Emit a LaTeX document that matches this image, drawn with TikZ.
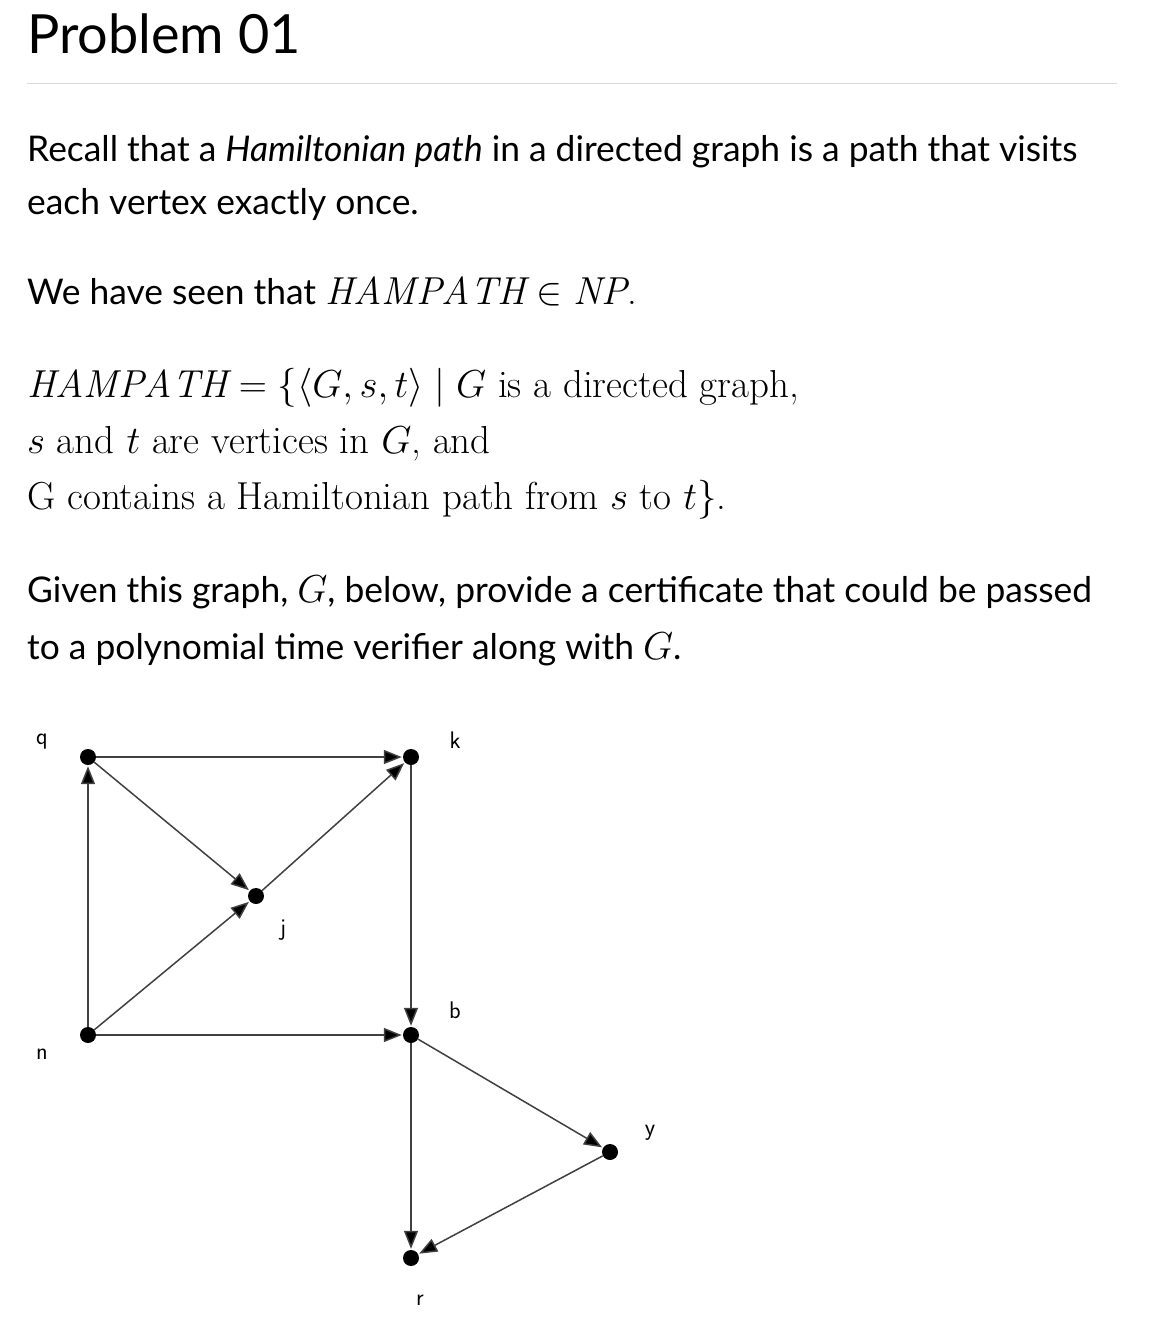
\RequirePackage{fix-cm}
\documentclass[tikz,border=0pt]{standalone}
\usepackage{amsmath}
\usepackage{fontspec}
\newfontfamily\lato{Lato}
\usetikzlibrary{arrows.meta}
\begin{document}
\begin{tikzpicture}[x=1pt,y=-1pt,
  body/.style={anchor=base west,inner sep=0,font=\lato\fontsize{35.4}{42}\selectfont},
  mth/.style={anchor=base west,inner sep=0,font=\fontsize{39}{48}\selectfont},
  vtx/.style={circle,fill=black,minimum size=16,inner sep=0},
  lbl/.style={font=\sffamily\fontsize{24}{28}\selectfont,inner sep=0},
  edge/.style={draw=black!75,line width=1.5,-{Triangle[length=18,width=14,fill=black]},shorten >=1}]
\useasboundingbox (0,0) rectangle (1152,1328);
\node[anchor=base west,inner sep=0,font=\lato\fontsize{54}{60}\selectfont] (title) at (27,53) {Problem 01};
\draw[black!15,line width=1] (27,83) -- (1117,83);
\node[body] (l1) at (27,161) {Recall that a \textit{Hamiltonian path} in a directed graph is a path that visits};
\node[body] (l2) at (27,214) {each vertex exactly once.};
\node[body] (l3) at (27,304) {We have seen that {\fontsize{39}{48}\selectfont\normalfont $\mathit{HAMPATH}\in\mathit{NP}$.}};
\node[mth] (m1) at (27,397) {$\mathit{HAMPATH}=\{\langle G,s,t\rangle\mid G$ is a directed graph,};
\node[mth] (m2) at (27,453) {$s$ and $t$ are vertices in $G$, and};
\node[mth] (m3) at (27,509) {G contains a Hamiltonian path from $s$ to $t\}$.};
\node[body] (l4) at (27,602) {Given this graph, {\fontsize{39}{48}\selectfont\normalfont $G$}, below, provide a certificate that could be passed};
\node[body] (l5) at (27,659) {to a polynomial time verifier along with {\fontsize{39}{48}\selectfont\normalfont $G$}.};

\node[vtx] (q) at (88,757) {};
\node[vtx] (k) at (411,757) {};
\node[vtx] (j) at (256,896) {};
\node[vtx] (n) at (88,1035) {};
\node[vtx] (b) at (411,1035) {};
\node[vtx] (y) at (610,1152) {};
\node[vtx] (r) at (411,1258) {};
\node[lbl] at (42,742) {q};
\node[lbl] at (455,740) {k};
\node[lbl] at (283,930) {j};
\node[lbl] at (42,1054) {n};
\node[lbl] at (455,1010) {b};
\node[lbl] at (650,1133) {y};
\node[lbl] at (420,1300) {r};

\draw[edge] (q) -- (k);
\draw[edge] (q) -- (j);
\draw[edge] (n) -- (j);
\draw[edge] (j) -- (k);
\draw[edge] (n) -- (q);
\draw[edge] (k) -- (b);
\draw[edge] (n) -- (b);
\draw[edge] (b) -- (y);
\draw[edge] (b) -- (r);
\draw[edge] (y) -- (r);
\end{tikzpicture}
\end{document}
